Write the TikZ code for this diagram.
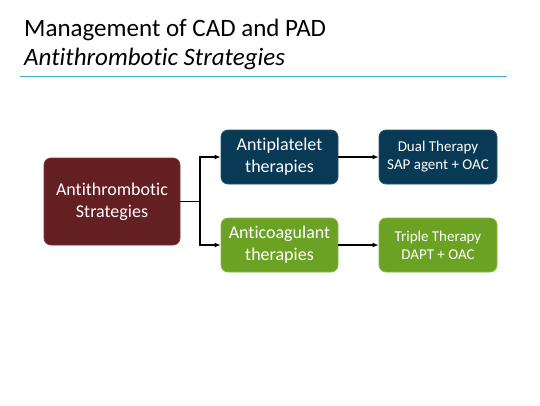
\documentclass[tikz,border=0pt]{standalone}
\usepackage{fontspec}
\setmainfont{Carlito}[RawFeature={-liga;-clig;-dlig}]
\usetikzlibrary{arrows.meta,positioning}
\definecolor{darkred}{HTML}{641F22}
\definecolor{darkredb}{HTML}{7A3A3C}
\definecolor{navy}{HTML}{083A56}
\definecolor{navyb}{HTML}{2A5670}
\definecolor{leaf}{HTML}{6CA224}
\definecolor{leafb}{HTML}{8AB84A}
\definecolor{teal}{HTML}{3AAEC3}
\tikzset{
  x=1pt,y=-1pt,
  box/.style={rounded corners=7pt, line width=0.8pt, text=white, align=center, inner sep=0pt},
  conn/.style={line width=1.3pt, -{Latex[length=6pt,width=5pt]}},
}
\begin{document}
\begin{tikzpicture}
\useasboundingbox (0,0) rectangle (540,405);
\fill[white] (0,0) rectangle (540,405);
\node[anchor=base west, inner sep=0pt, font=\fontsize{25}{30}\selectfont] (t1) at (24,36) {Management of CAD and PAD};
\node[anchor=base west, inner sep=0pt, font=\fontsize{25}{30}\selectfont\itshape] (t2) at (24,65) {Antithrombotic Strategies};
\draw[teal, line width=1pt] (20,76) coordinate (l1) -- (507,76) coordinate (l2);

\node[box, fill=darkred, draw=darkredb, minimum width=136pt, minimum height=87pt, font=\fontsize{18}{22}\selectfont] (main) at (112,201.5) {Antithrombotic\\Strategies};
\node[box, fill=navy, draw=navyb, minimum width=117pt, minimum height=54pt, font=\fontsize{18}{22}\selectfont] (ap) at (279.5,157) {Antiplatelet\\therapies};
\node[box, fill=leaf, draw=leafb, minimum width=117pt, minimum height=54pt, font=\fontsize{18}{22}\selectfont] (ac) at (279.5,245) {Anticoagulant\\therapies};
\node[box, fill=navy, draw=navyb, minimum width=118pt, minimum height=54pt, font=\fontsize{15}{18}\selectfont] (dual) at (438,157) {Dual Therapy\\SAP agent + OAC};
\node[box, fill=leaf, draw=leafb, minimum width=118pt, minimum height=54pt, font=\fontsize{15}{18}\selectfont] (triple) at (438,245) {Triple Therapy\\DAPT + OAC};

\coordinate (j) at (200,201.5);
\draw[line width=1.3pt] (main.east) -- (j);
\draw[conn] (j) |- (ap.west);
\draw[conn] (j) |- (ac.west);
\draw[conn] (ap) -- (dual);
\draw[conn] (ac) -- (triple);
\end{tikzpicture}
\end{document}
